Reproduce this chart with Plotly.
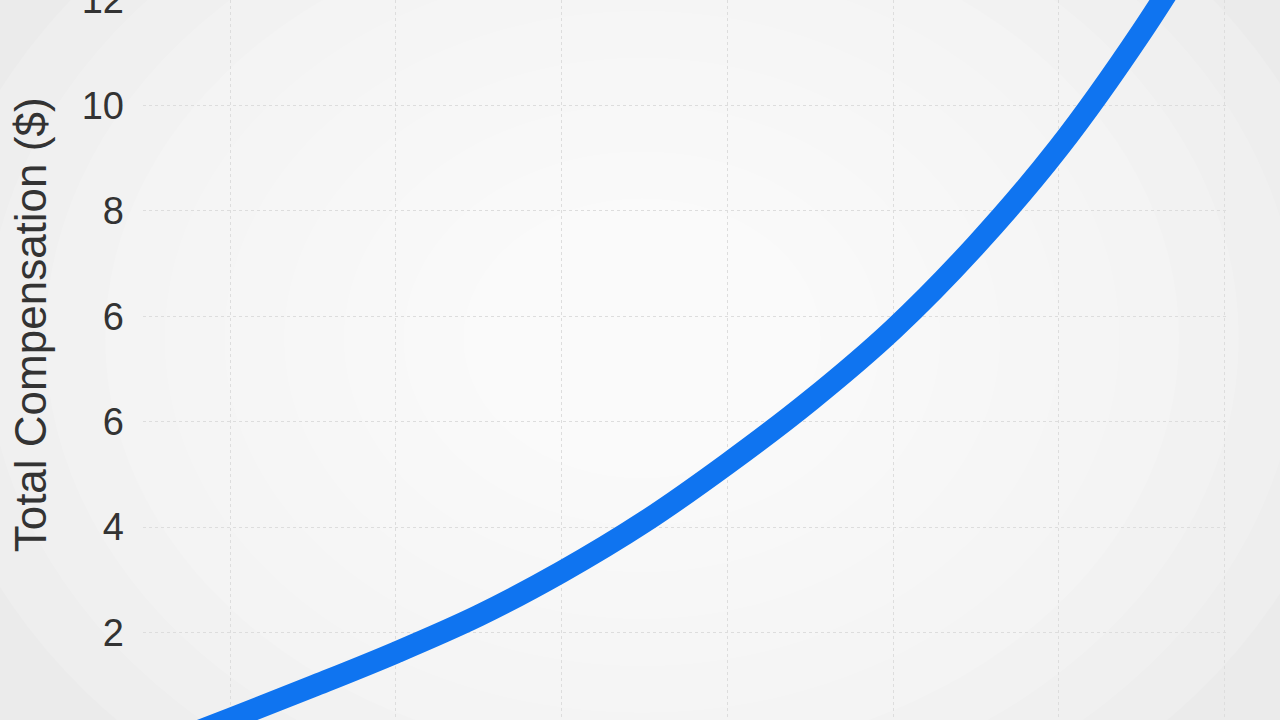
import plotly.graph_objects as go

# curve values at half-year steps
years = [0.5, 1.0, 1.5, 2.0, 2.5, 3.0, 3.5, 4.0, 4.5, 5.0, 5.5, 6.0, 6.5, 7.0]
compensation = [-0.25, 0.36, 0.98, 1.62, 2.32, 3.15, 4.1, 5.2, 6.4, 7.75, 9.35, 11.2, 13.4, 15.9]

y_tick_vals = [2, 4, 6, 8, 10, 12, 14]
y_tick_text = ["2", "4", "6", "6", "8", "10", "12"]
x_tick_vals = [1, 2, 3, 4, 5, 6, 7]

fig = go.Figure()
fig.add_trace(
    go.Scatter(
        x=years,
        y=compensation,
        mode="lines",
        line=dict(color="#0f74f0", width=22, shape="spline", smoothing=1.0),
        showlegend=False,
        hoverinfo="skip",
    )
)

# soft light glow in the middle of the background (stacked translucent ellipses)
glow = []
for k in range(10):
    rx = 0.66 - k * 0.055
    ry = 0.78 - k * 0.065
    glow.append(
        dict(
            type="circle",
            xref="paper",
            yref="paper",
            x0=0.46 - rx,
            x1=0.46 + rx,
            y0=0.53 - ry,
            y1=0.53 + ry,
            fillcolor="rgba(255,255,255,0.15)",
            line=dict(width=0),
            layer="below",
        )
    )

fig.update_layout(
    width=1280,
    height=720,
    margin=dict(l=143, r=52, t=0, b=0),
    paper_bgcolor="#ebebeb",
    plot_bgcolor="rgba(0,0,0,0)",
    font=dict(family="Liberation Sans, Arial, sans-serif", color="#333333"),
    shapes=glow,
    xaxis=dict(
        range=[0.475, 7.02],
        tickvals=x_tick_vals,
        showticklabels=False,
        showgrid=True,
        gridcolor="#dddddd",
        griddash="dot",
        gridwidth=1,
        zeroline=False,
        showline=False,
        automargin=False,
    ),
    yaxis=dict(
        range=[0.34, 14.0],
        tickvals=y_tick_vals,
        ticktext=y_tick_text,
        tickfont=dict(size=38, color="#333333"),
        ticklabelstandoff=18,
        ticklabeloverflow="allow",
        automargin=False,
        showgrid=True,
        gridcolor="#dddddd",
        griddash="dot",
        gridwidth=1,
        zeroline=False,
        showline=False,
    ),
    annotations=[
        dict(
            text="Total Compensation ($)",
            xref="paper",
            yref="paper",
            x=-0.128,
            y=0.549,
            textangle=-90,
            showarrow=False,
            font=dict(size=44, color="#333333"),
        )
    ],
)

fig.write_html(
    "out.html",
    config={"displayModeBar": False},
    post_script="document.body.style.margin='0';",
)
